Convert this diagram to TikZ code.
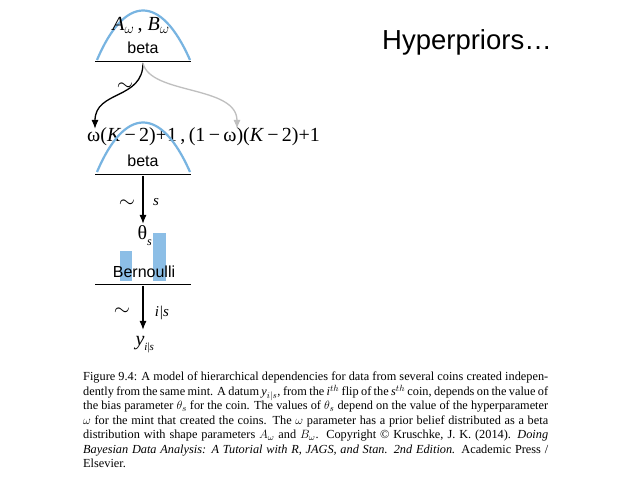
\documentclass[tikz,border=0pt]{standalone}
\usepackage{fontspec}
\setmainfont{Liberation Serif}
\newfontfamily\sansf{Liberation Sans}
\usetikzlibrary{arrows.meta}
\definecolor{curvec}{RGB}{120,180,225}
\definecolor{barc}{RGB}{140,190,230}
\begin{document}
\begin{tikzpicture}[x=1pt,y=-1pt,
  curve/.style={draw=curvec,line width=2.2pt},
  baseln/.style={draw=black,line width=1pt},
  arr/.style={-{Latex[length=9pt,width=7pt]},line width=1.3pt},
  garr/.style={-{Latex[length=9pt,width=7pt]},line width=1.3pt,draw=black!25},
  lbl/.style={inner sep=0pt,font=\sansf\fontsize{16}{16}\selectfont},
  mth/.style={inner sep=0pt,font=\fontsize{20}{20}\selectfont},
  sm/.style={inner sep=0pt,font=\fontsize{15}{15}\selectfont\itshape},
  captxt/.style={anchor=base west,inner sep=0pt,font=\fontsize{12.3}{13}\selectfont}]
\useasboundingbox (0,0) rectangle (638,478);
\fill[white] (0,0) rectangle (638,478);
% top beta
\draw[curve] (97,60) .. controls (125,-6) and (161,-6) .. (190,60);
\draw[baseln] (95,62) -- (191,62);
\node[mth] (ab) at (141,25) {\textit{A}$_{\omega}$\,, \textit{B}$_{\omega}$};
\node[lbl] (b1) at (143,48) {beta};
\coordinate (t1) at (143,63);
\node[mth,anchor=west] (mid) at (87,137) {ω(\textit{K}\,−\,2)+1\,,\,(1\,−\,ω)(\textit{K}\,−\,2)+1};
\coordinate (l) at (95,129);
\coordinate (r) at (237,129);
\draw[arr] (t1) .. controls (143,100) and (95,90) .. (l);
\draw[garr] (t1) .. controls (150,95) and (237,85) .. (r);
\node[mth] (til1) at (125,87) {$\sim$};
% second beta
\draw[curve] (97,172) .. controls (125,106) and (161,106) .. (190,172);
\node[lbl] (b2) at (143,161) {beta};
\draw[baseln] (95,175) -- (191,175);
\coordinate (t2) at (143,176);
\node[mth] (th) at (145,236) {θ$_{\raisebox{-3pt}{\fontsize{12}{12}\selectfont\textit{s}}}$};
\draw[arr] (t2) -- (143,224);
\node[mth] at (127,204) {$\sim$};
\node[sm] at (156,202) {s};
% bernoulli
\fill[barc] (120,251) rectangle (132,281);
\fill[barc] (153,233) rectangle (166,281);
\node[lbl] (bern) at (144,272) {Bernoulli};
\draw[baseln] (95,285) -- (191,285);
\coordinate (t3) at (143,286);
\node[mth] (y) at (145,345) {\textit{y}$_{\raisebox{-2pt}{\fontsize{11}{11}\selectfont\textit{i}|\textit{s}}}$};
\draw[arr] (t3) -- (143,330);
\node[mth] at (122,312) {$\sim$};
\node[sm] at (162,313) {i|s};
% title
\node[inner sep=0pt,font=\sansf\fontsize{27.5}{27.5}\selectfont] (hp) at (467,42) {Hyperpriors…};
% caption
\node[captxt] at (83,381) {\makebox[465pt][s]{Figure 9.4: A model of hierarchical dependencies for data from several coins created indepen-}};
\node[captxt] at (83,395.5) {\makebox[465pt][s]{dently from the same mint. A datum \textit{y}$_{i|s}$, from the \textit{i}$^{th}$ flip of the \textit{s}$^{th}$ coin, depends on the value of}};
\node[captxt] at (83,410) {\makebox[465pt][s]{the bias parameter $\theta_s$ for the coin. The values of $\theta_s$ depend on the value of the hyperparameter}};
\node[captxt] at (83,424.5) {\makebox[465pt][s]{$\omega$ for the mint that created the coins. The $\omega$ parameter has a prior belief distributed as a beta}};
\node[captxt] at (83,439) {\makebox[465pt][s]{distribution with shape parameters $A_\omega$ and $B_\omega$.\ \ Copyright © Kruschke, J. K. (2014). \textit{Doing}}};
\node[captxt] at (83,453.5) {\makebox[465pt][s]{\textit{Bayesian Data Analysis: A Tutorial with R, JAGS, and Stan. 2nd Edition.} Academic Press /}};
\node[captxt] at (83,468) {Elsevier.};
\end{tikzpicture}
\end{document}
